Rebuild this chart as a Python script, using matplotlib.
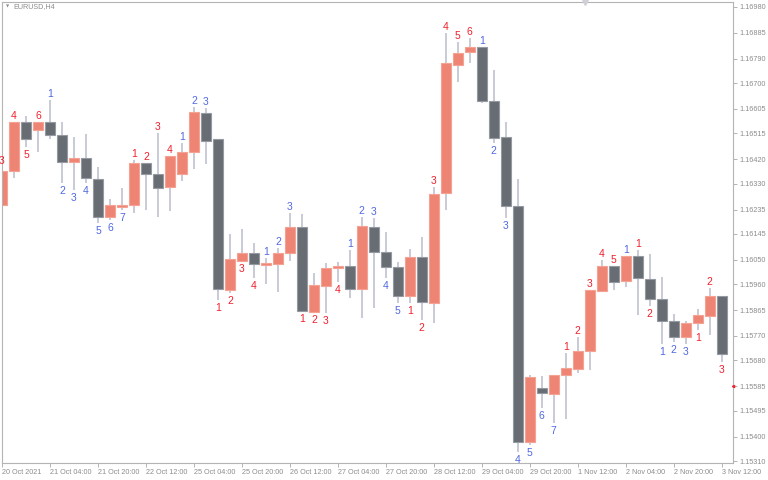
import matplotlib
matplotlib.use('Agg')
import matplotlib.pyplot as plt
from matplotlib.patches import Rectangle

# ---------------- data (EURUSD H4) ----------------
opens = [1.16252, 1.16377, 1.16557, 1.16528, 1.16557, 1.16509, 1.16410, 1.16425, 1.16347, 1.16208,
         1.16244, 1.16252, 1.16406, 1.16366, 1.16318, 1.16366, 1.16447, 1.16590, 1.16495, 1.15939,
         1.16046, 1.16075, 1.16031, 1.16035, 1.16075, 1.16171, 1.15858, 1.15954, 1.16020, 1.16027,
         1.15943, 1.16171, 1.16079, 1.16024, 1.15917, 1.16061, 1.15891, 1.16296, 1.16767, 1.16814,
         1.16833, 1.16634, 1.16502, 1.16248, 1.15380, 1.15579, 1.15557, 1.15626, 1.15649, 1.15715,
         1.15935, 1.16027, 1.15972, 1.16064, 1.15980, 1.15906, 1.15825, 1.15766, 1.15818, 1.15843,
         1.15917]
highs = [1.16392, 1.16557, 1.16579, 1.16557, 1.16638, 1.16557, 1.16502, 1.16513, 1.16392, 1.16274,
         1.16314, 1.16417, 1.16406, 1.16517, 1.16432, 1.16480, 1.16612, 1.16609, 1.16495, 1.16145,
         1.16163, 1.16112, 1.16057, 1.16094, 1.16222, 1.16219, 1.16002, 1.16038, 1.16042, 1.16086,
         1.16208, 1.16204, 1.16152, 1.16042, 1.16090, 1.16134, 1.16318, 1.16884, 1.16851, 1.16866,
         1.16833, 1.16748, 1.16557, 1.16347, 1.15626, 1.15623, 1.15626, 1.15707, 1.15766, 1.15939,
         1.16049, 1.16027, 1.16064, 1.16086, 1.16072, 1.15987, 1.15851, 1.15825, 1.15869, 1.15946,
         1.15917]
lows = [1.16204, 1.16351, 1.16465, 1.16447, 1.16495, 1.16333, 1.16307, 1.16333, 1.16186, 1.16197,
        1.16233, 1.16222, 1.16233, 1.16208, 1.16230, 1.16340, 1.16384, 1.16403, 1.15902, 1.15928,
        1.16046, 1.15983, 1.15961, 1.15932, 1.16046, 1.15862, 1.15858, 1.15854, 1.15969, 1.15910,
        1.15836, 1.15873, 1.15983, 1.15891, 1.15891, 1.15829, 1.15818, 1.16233, 1.16704, 1.16774,
        1.16627, 1.16480, 1.16204, 1.15343, 1.15369, 1.15505, 1.15450, 1.15465, 1.15634, 1.15645,
        1.15935, 1.15939, 1.15950, 1.15847, 1.15880, 1.15740, 1.15748, 1.15740, 1.15793, 1.15774,
        1.15674]
closes = [1.16377, 1.16557, 1.16495, 1.16557, 1.16509, 1.16410, 1.16425, 1.16351, 1.16208, 1.16252,
          1.16252, 1.16406, 1.16366, 1.16314, 1.16432, 1.16447, 1.16594, 1.16487, 1.15943, 1.16053,
          1.16075, 1.16035, 1.16038, 1.16075, 1.16171, 1.15862, 1.15957, 1.16020, 1.16027, 1.15943,
          1.16175, 1.16079, 1.16024, 1.15917, 1.16061, 1.15895, 1.16292, 1.16774, 1.16811, 1.16833,
          1.16634, 1.16498, 1.16248, 1.15380, 1.15619, 1.15560, 1.15626, 1.15652, 1.15715, 1.15939,
          1.16027, 1.15969, 1.16064, 1.15983, 1.15906, 1.15825, 1.15766, 1.15818, 1.15847, 1.15917,
          1.15704]

count_labels = ['3', '4', '5', '6', '1', '2', '3', '4', '5', '6',
                '7', '1', '2', '3', '4', '1', '2', '3', '1', '2',
                '3', '4', '1', '2', '3', '1', '2', '3', '4', '1',
                '2', '3', '4', '5', '1', '2', '3', '4', '5', '6',
                '1', '2', '3', '4', '5', '6', '7', '1', '2', '3',
                '4', '5', '1', '1', '2', '1', '2', '3', '1', '2',
                '3']
count_colors = ['r', 'r', 'r', 'r', 'b', 'b', 'b', 'b', 'b', 'b',
                'b', 'r', 'r', 'r', 'r', 'b', 'b', 'b', 'r', 'r',
                'r', 'r', 'b', 'b', 'b', 'r', 'r', 'r', 'r', 'b',
                'b', 'b', 'b', 'b', 'r', 'r', 'r', 'r', 'r', 'r',
                'b', 'b', 'b', 'b', 'b', 'b', 'b', 'r', 'r', 'r',
                'r', 'r', 'b', 'r', 'r', 'b', 'b', 'b', 'r', 'r',
                'r']
count_sides = ['a', 'a', 'b', 'a', 'a', 'b', 'b', 'b', 'b', 'b',
               'b', 'a', 'a', 'a', 'a', 'a', 'a', 'a', 'b', 'b',
               'b', 'b', 'a', 'a', 'a', 'b', 'b', 'b', 'b', 'a',
               'a', 'a', 'b', 'b', 'b', 'b', 'a', 'a', 'a', 'a',
               'a', 'b', 'b', 'b', 'b', 'b', 'b', 'a', 'a', 'a',
               'a', 'a', 'a', 'a', 'b', 'b', 'b', 'b', 'b', 'a',
               'b']

x_tick_labels = ['20 Oct 2021', '21 Oct 04:00', '21 Oct 20:00', '22 Oct 12:00', '25 Oct 04:00',
                 '25 Oct 20:00', '26 Oct 12:00', '27 Oct 04:00', '27 Oct 20:00', '28 Oct 12:00',
                 '29 Oct 04:00', '29 Oct 20:00', '1 Nov 12:00', '2 Nov 04:00', '2 Nov 20:00',
                 '3 Nov 12:00']
y_ticks = [1.16980, 1.16885, 1.16790, 1.16700, 1.16605, 1.16515, 1.16420, 1.16330, 1.16235,
           1.16145, 1.16050, 1.15960, 1.15865, 1.15770, 1.15680, 1.15585, 1.15495, 1.15400, 1.15310]
y_tick_labels = ['1.16980', '1.16885', '1.16790', '1.16700', '1.16605', '1.16515', '1.16420',
                 '1.16330', '1.16235', '1.16145', '1.16050', '1.15960', '1.15865', '1.15770',
                 '1.15680', '1.15585', '1.15495', '1.15400', '1.15310']
bid_price = 1.15586
title = 'EURUSD,H4'

# ---------------- style ----------------
BULL_FACE = '#ee8474'
BULL_EDGE = '#f3a293'
BEAR_FACE = '#686c73'
BEAR_EDGE = '#959aa2'
WICK = '#c4c7d3'
LBL_COL = {'r': '#f0202c', 'b': '#5068e0'}
AXIS_TXT = '#8c8c8c'
SPINE = '#b4b4b4'

plt.rcParams['font.family'] = ['Liberation Sans', 'DejaVu Sans']

fig = plt.figure(figsize=(7.68, 4.8), dpi=100)
fig.patch.set_facecolor('white')
ax = fig.add_axes([2 / 768, 17 / 480, 731 / 768, 461 / 480])
ax.set_facecolor('white')

n = len(opens)
body_w = 0.86
for i in range(n):
    o, h, l, c = opens[i], highs[i], lows[i], closes[i]
    ax.vlines(i, l, h, color=WICK, lw=1.3, zorder=1)
    bull = c >= o
    bottom = min(o, c)
    height = max(abs(c - o), 0.00002)
    ax.add_patch(Rectangle((i - body_w / 2, bottom), body_w, height,
                           facecolor=BULL_FACE if bull else BEAR_FACE,
                           edgecolor=BULL_EDGE if bull else BEAR_EDGE,
                           lw=0.8, zorder=2))
    if count_sides[i] == 'a':
        ax.annotate(count_labels[i], (i, h), xytext=(0, 1), textcoords='offset pixels',
                    ha='center', va='bottom', fontsize=7.5, color=LBL_COL[count_colors[i]],
                    zorder=3, annotation_clip=False)
    else:
        ax.annotate(count_labels[i], (i, l), xytext=(0, -3), textcoords='offset pixels',
                    ha='center', va='top', fontsize=7.5, color=LBL_COL[count_colors[i]],
                    zorder=3, annotation_clip=False)

ax.set_xlim(0, 60.94)
ax.set_ylim(1.15303, 1.16998)

ax.set_xticks(list(range(0, n, 4)))
ax.set_xticklabels(x_tick_labels)
for lab in ax.get_xticklabels():
    lab.set_horizontalalignment('left')
ax.tick_params(axis='x', direction='out', length=3, width=0.7, color=SPINE,
               labelsize=5.2, labelcolor=AXIS_TXT, pad=1.5)

ax.yaxis.tick_right()
ax.set_yticks(y_ticks)
ax.set_yticklabels(y_tick_labels)
ax.tick_params(axis='y', direction='out', length=3, width=0.7, color=SPINE,
               labelsize=5.2, labelcolor=AXIS_TXT, pad=1.5)

for s in ax.spines.values():
    s.set_color(SPINE)
    s.set_linewidth(0.8)

# title and markers
ax.text(11 / 731, 1 - 5 / 461, title, transform=ax.transAxes, fontsize=5.2,
        color=AXIS_TXT, ha='left', va='center')
ax.text(4 / 731, 1 - 5 / 461, '\u25BC', transform=ax.transAxes, fontsize=3,
        color=AXIS_TXT, ha='left', va='center', family='DejaVu Sans')
ax.plot([583 / 731], [1.0], transform=ax.transAxes, marker='v', ms=4,
        color='#cfd0d8', clip_on=False, zorder=4)
ax.plot([1.0], [bid_price], transform=ax.get_yaxis_transform(), marker='<', ms=1.6,
        color='#f0202c', clip_on=False, zorder=4)

fig.savefig('out.png', dpi=100, facecolor='white')
